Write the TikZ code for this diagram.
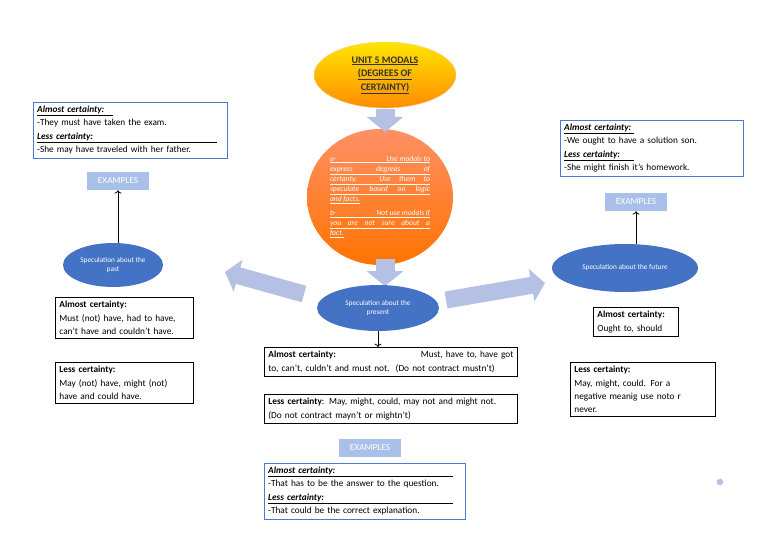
\documentclass[tikz,border=0pt]{standalone}
\usepackage{fontspec}
\setmainfont{Carlito}
\usetikzlibrary{shapes.geometric,arrows.meta}
\definecolor{bubble}{HTML}{4472C4}
\definecolor{pale}{HTML}{B4C0E4}
\definecolor{tag}{HTML}{A9C0E8}
\definecolor{frameblue}{HTML}{4A7BD0}
\newcommand{\ul}[2]{\underline{\makebox[#1][l]{\textbf{\textit{#2}}}}}
\newcommand{\jline}[1]{\underline{\makebox[100pt][s]{#1}}}
\begin{document}
\begin{tikzpicture}[x=1pt,y=-1pt,font=\fontsize{9.3}{13.2}\selectfont]
\tikzstyle{talk}=[ellipse,fill=bubble,text=white,align=center,font=\fontsize{7.3}{9}\selectfont,inner sep=0pt]
\tikzstyle{fat}=[pale,line width=#1,-{Triangle[width=1.9*#1,length=0.8*#1]}]
\tikzstyle{note}=[draw,thick,anchor=north west,text width=#1,align=left,inner sep=4pt]
\tikzstyle{tag}=[fill=tag,text=white,minimum width=62pt,minimum height=18pt,inner sep=0pt]
\useasboundingbox (0,0) rectangle (768,543);
% title
\node[ellipse,minimum width=142pt,minimum height=66pt,top color=yellow!80!orange,bottom color=orange!90!yellow,draw=orange!40,align=center,font=\fontsize{10}{13.5}\selectfont\bfseries,text=black!80] (title) at (385,75) {\underline{UNIT 5 MODALS}\\\underline{(DEGREES OF}\\\underline{CERTAINTY)}};
% orange circle
\node[ellipse,minimum width=146pt,minimum height=136pt,top color=orange!55!red!60!white,bottom color=orange!90!red,inner sep=0pt] (idea) at (380,197) {};
\node[align=left,text=white,font=\fontsize{7.6}{10}\selectfont\itshape] (ideatext) at (380,197) {\jline{a-\hfill Use modals to}\\\jline{express degrees of}\\\jline{certanty. Use them to}\\\jline{speculate based on logic}\\\underline{and facts.}\\[4pt]\jline{b-\hfill Not use modals if}\\\jline{you are not sure about a}\\\underline{fact.}};
\draw[fat=19pt] (title) ++(0,34) coordinate (t1) -- ++(0,23);
\draw[fat=19pt] (idea.south) ++(5,-6) coordinate (t2) -- ++(0,27);
% bubbles
\node[talk,minimum width=122pt,minimum height=46pt] (present) at (378,308) {Speculation about the\\present};
\node[talk,minimum width=100pt,minimum height=44pt] (past) at (113,265) {Speculation about the\\past};
\node[talk,minimum width=146pt,minimum height=48pt] (future) at (625,268) {Speculation about the future};
\coordinate (l0) at (304,294);
\coordinate (r0) at (446,300);
\draw[fat=17pt] (l0) -- (225,272);
\draw[fat=17pt] (r0) -- (545,283);
% left side
\node[note=186pt,draw=frameblue,thin] (lex) at (33,102) {\ul{76pt}{Almost certainty:}\\-They must have taken the exam.\\\ul{180pt}{Less certainty:}\\-She may have traveled with her father.};
\node[tag] (ltag) at (118,181) {EXAMPLES};
\draw[->,thick] (ltag.south |- past.north) -- (ltag);
\node[note=130pt] (lalm) at (55,297) {\textbf{Almost certainty:}\\Must (not) have, had to have,\\can't have and couldn't have.\\[2pt]};
\node[note=130pt] (lless) at (55,362) {\textbf{Less certainty:}\\May (not) have, might (not)\\have and could have.\\[3pt]};
% right side
\node[note=175pt,draw=frameblue,thin] (rex) at (560,120) {\ul{70pt}{Almost certainty:}\\-We ought to have a solution son.\\\ul{70pt}{Less certainty:}\\-She might finish it's homework.};
\node[tag] (rtag) at (636,202) {EXAMPLES};
\draw[->,thick] (rtag.south |- future.north) -- (rtag);
\node[note=77pt] (ralm) at (593,307) {\textbf{Almost certainty:}\\Ought to, should};
\node[note=137pt] (rless) at (570,362) {\textbf{Less certainty:}\\May, might, could. For a\\negative meanig use noto r\\never.};
% centre
\node[note=245pt] (calm) at (264,347) {\textbf{Almost certainty:}\hfill Must, have to, have got\hspace*{6pt}\\to, can't, culdn't and must not.\ \ (Do not contract mustn't)};
\node[note=245pt] (cless) at (264,394) {\textbf{Less certainty}: May, might, could, may not and might not.\\(Do not contract mayn't or mightn't)\\[2pt]};
\draw[->,thick] (present.south) -- (present.south |- calm.north);
\node[tag] (ctag) at (370,448) {EXAMPLES};
\node[note=193pt,draw=frameblue,thin] (cex) at (264,463) {\ul{185pt}{Almost certainty:}\\-That has to be the answer to the question.\\\ul{185pt}{Less certainty:}\\-That could be the correct explanation.};
\node[regular polygon,regular polygon sides=5,fill=pale,minimum size=7pt,inner sep=0pt,rotate=-90] (mark) at (720,482) {};
\end{tikzpicture}
\end{document}
